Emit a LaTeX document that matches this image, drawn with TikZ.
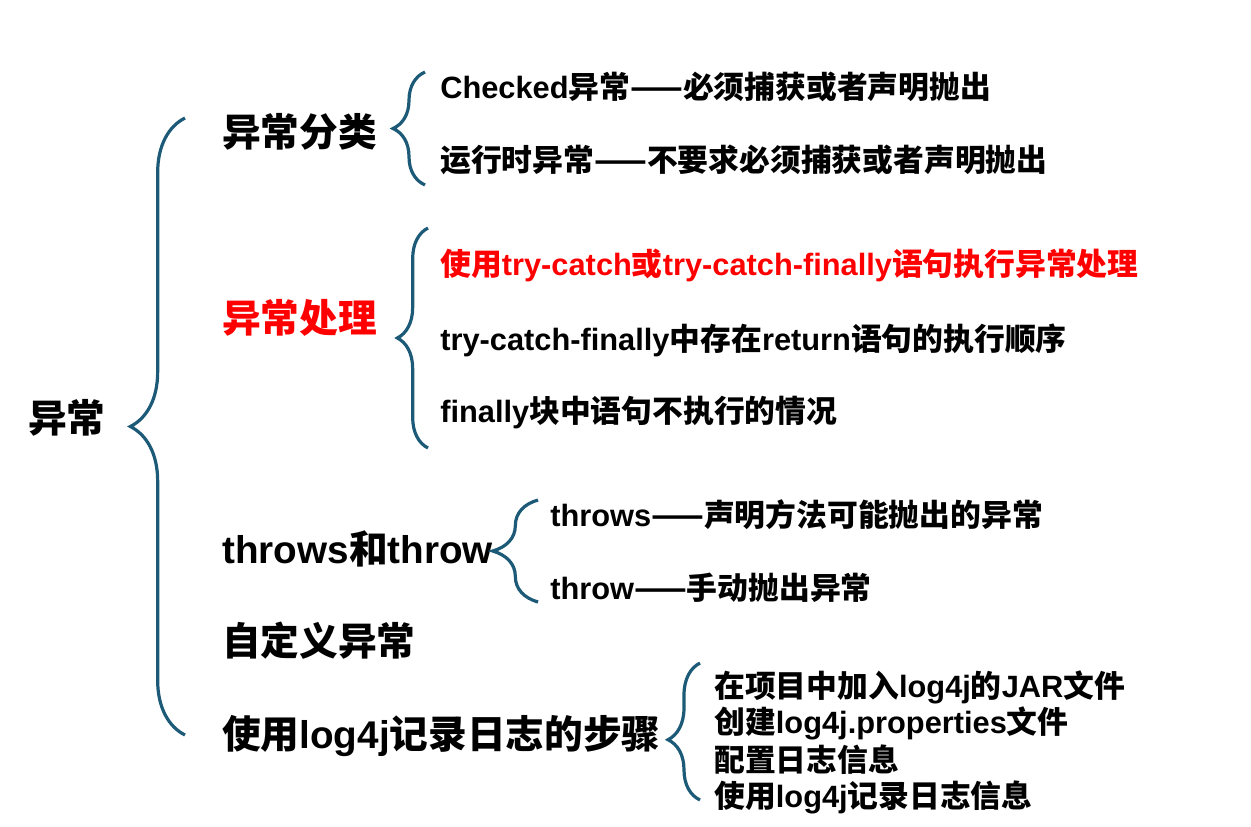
\documentclass[tikz,border=0pt]{standalone}
\usepackage{fontspec}
\setmainfont{Liberation Sans}
\newfontfamily\cjk{Noto Sans CJK SC}
\usetikzlibrary{decorations.pathreplacing}
\definecolor{bracec}{HTML}{1D5A78}
\newcommand\C[1]{{\cjk\bfseries #1}}
\tikzset{
 br/.style={draw=bracec,line width=2.4pt,decorate,decoration={brace,amplitude=#1}},
 big/.style={anchor=west,inner sep=0pt,font=\bfseries\fontsize{29}{32}\selectfont},
 sub/.style={anchor=west,inner sep=0pt,font=\bfseries\fontsize{23.1}{27}\selectfont},
}
\begin{document}
\begin{tikzpicture}[x=0.75pt,y=-0.75pt]
\useasboundingbox (0,0) rectangle (1251,826);
\node[big] (root) at (28,418) {\C{异常}};
\draw[br=41pt] (185,735) -- (185,118);
\node[big] (a) at (222,132) {\C{异常分类}};
\node[big,text=red] (b) at (222,318) {\C{异常处理}};
\node[big] (c) at (222,549) {throws\C{和}throw};
\node[big] (d) at (222,641) {\C{自定义异常}};
\node[big] (e) at (222,736) {\C{使用}log4j\C{记录日志的步骤}};
\draw[br=24pt] (425,185) -- (425,72);
\node[sub] (a1) at (440,87) {Checked\C{异常——必须捕获或者声明抛出}};
\node[sub] (a2) at (440,160) {\C{运行时异常——不要求必须捕获或者声明抛出}};
\draw[br=23pt] (428,448) -- (428,228);
\node[sub,text=red] (b1) at (440,265) {\C{使用}try-catch\C{或}try-catch-finally\C{语句执行异常处理}};
\node[sub] (b2) at (440,340) {try-catch-finally\C{中存在}return\C{语句的执行顺序}};
\node[sub] (b3) at (440,412) {finally\C{块中语句不执行的情况}};
\draw[br=34pt] (538,602) -- (538,500);
\node[sub] (c1) at (550,515) {throws\C{——声明方法可能抛出的异常}};
\node[sub] (c2) at (550,588) {throw\C{——手动抛出异常}};
\draw[br=24pt,decoration={aspect=0.44}] (700,800) -- (700,663);
\node[sub] (e1) at (714,687) {\C{在项目中加入}log4j\C{的}JAR\C{文件}};
\node[sub] (e2) at (714,723) {\C{创建}log4j.properties\C{文件}};
\node[sub] (e3) at (714,760) {\C{配置日志信息}};
\node[sub] (e4) at (714,797) {\C{使用}log4j\C{记录日志信息}};
\end{tikzpicture}
\end{document}
